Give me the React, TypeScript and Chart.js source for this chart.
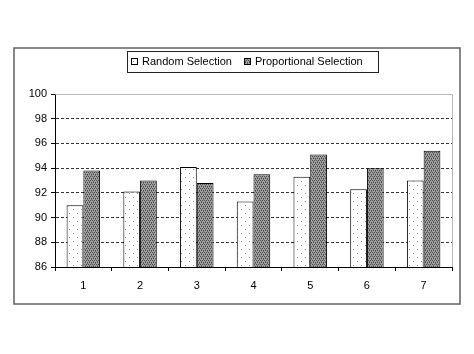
import React, { useEffect, useRef } from "react";
import { Chart, registerables } from "chart.js";

Chart.register(...registerables);

const categories = ["1", "2", "3", "4", "5", "6", "7"];
const randomSelection = [91.0, 92.1, 94.1, 91.3, 93.3, 92.3, 93.0];
const proportionalSelection = [93.8, 93.0, 92.8, 93.5, 95.1, 94.0, 95.4];
const seriesNames = ["Random Selection", "Proportional Selection"];
const yMin = 86;
const yMax = 100;
const yStep = 2;

const FONT = "'Liberation Sans', Arial, sans-serif";

function makeRandomPattern(ctx: CanvasRenderingContext2D) {
  const c = document.createElement("canvas");
  c.width = 8;
  c.height = 8;
  const g = c.getContext("2d")!;
  g.fillStyle = "#ffffff";
  g.fillRect(0, 0, 8, 8);
  g.fillStyle = "#8a8a8a";
  g.fillRect(1, 1, 1, 1);
  g.fillRect(5, 5, 1, 1);
  return ctx.createPattern(c, "repeat")!;
}

function makePropPattern(ctx: CanvasRenderingContext2D) {
  const c = document.createElement("canvas");
  c.width = 4;
  c.height = 4;
  const g = c.getContext("2d")!;
  g.fillStyle = "#a0a0a0";
  g.fillRect(0, 0, 4, 4);
  g.fillStyle = "#4a4a4a";
  g.fillRect(0, 0, 1, 1);
  g.fillRect(2, 0, 1, 1);
  g.fillRect(1, 2, 1, 1);
  g.fillRect(3, 2, 1, 1);
  g.fillStyle = "#6a6a6a";
  g.fillRect(1, 1, 1, 1);
  g.fillRect(3, 3, 1, 1);
  return ctx.createPattern(c, "repeat")!;
}

export default function App() {
  const ref = useRef<HTMLCanvasElement | null>(null);

  useEffect(() => {
    const canvas = ref.current!;
    const ctx = canvas.getContext("2d")!;
    const pRandom = makeRandomPattern(ctx);
    const pProp = makePropPattern(ctx);

    const framePlugin = {
      id: "frame",
      beforeDraw(chart: any) {
        const c = chart.ctx;
        c.save();
        c.fillStyle = "#ffffff";
        c.fillRect(0, 0, chart.width, chart.height);
        c.restore();
      },
      afterDraw(chart: any) {
        const c = chart.ctx as CanvasRenderingContext2D;
        const a = chart.chartArea;
        c.save();
        // plot top & right border
        c.strokeStyle = "#b8b8b8";
        c.lineWidth = 1;
        c.beginPath();
        c.moveTo(Math.round(a.left) + 0.5, Math.round(a.top) + 0.5);
        c.lineTo(Math.round(a.right) + 0.5, Math.round(a.top) + 0.5);
        c.lineTo(Math.round(a.right) + 0.5, Math.round(a.bottom));
        c.stroke();
        // outer frame
        c.strokeStyle = "#606060";
        c.lineWidth = 1.5;
        c.strokeRect(14, 48, 446, 256);
        // legend box
        c.fillStyle = "#ffffff";
        c.fillRect(127, 51, 251, 21);
        c.strokeStyle = "#222222";
        c.lineWidth = 1;
        c.strokeRect(127.5, 51.5, 251, 21);
        // swatches
        c.fillStyle = pRandom;
        c.fillRect(131, 58, 7, 7);
        c.strokeStyle = "#000";
        c.strokeRect(131.5, 58.5, 6, 6);
        c.fillStyle = pProp;
        c.fillRect(244, 58, 7, 7);
        c.strokeRect(244.5, 58.5, 6, 6);
        c.fillStyle = "#000";
        c.font = "11px " + FONT;
        c.textBaseline = "middle";
        c.textAlign = "left";
        c.fillText(seriesNames[0], 142, 62);
        c.fillText(seriesNames[1], 255, 62);
        c.restore();
      },
    };

    const chart = new Chart(canvas, {
      type: "bar",
      data: {
        labels: categories,
        datasets: [
          {
            label: seriesNames[0],
            data: randomSelection,
            backgroundColor: pRandom,
            borderColor: "#000000",
            borderWidth: 1,
            barPercentage: 1,
            categoryPercentage: 0.59,
          },
          {
            label: seriesNames[1],
            data: proportionalSelection,
            backgroundColor: pProp,
            borderColor: "#000000",
            borderWidth: 1,
            barPercentage: 1,
            categoryPercentage: 0.59,
          },
        ],
      },
      options: {
        animation: false,
        responsive: true,
        maintainAspectRatio: false,
        layout: { padding: { left: 0, top: 94, right: 22, bottom: 0 } },
        plugins: {
          legend: { display: false },
          tooltip: { enabled: false },
        },
        scales: {
          x: {
            afterFit: (s: any) => {
              s.height = 87;
            },
            grid: {
              offset: true,
              drawOnChartArea: false,
              drawTicks: true,
              tickLength: 4,
              tickColor: "#000",
            },
            border: { color: "#000", width: 1 },
            ticks: {
              color: "#000",
              font: { family: FONT, size: 11 },
              padding: 8,
            },
          },
          y: {
            min: yMin,
            max: yMax,
            afterFit: (s: any) => {
              s.width = 55;
            },
            ticks: {
              stepSize: yStep,
              color: "#000",
              font: { family: FONT, size: 11 },
              padding: 4,
            },
            grid: {
              color: (c: any) =>
                c.tick && (c.tick.value === yMin || c.tick.value === yMax)
                  ? "rgba(0,0,0,0)"
                  : "#333333",
              tickBorderDash: [],
              tickColor: "#000",
              tickLength: 4,
              lineWidth: 1,
            },
            border: { color: "#000", width: 1, dash: [3, 2] },
          },
        },
      },
      plugins: [framePlugin],
    });
    return () => chart.destroy();
  }, []);

  return (
    <div style={{ position: "fixed", left: 0, top: 0, width: 474, height: 354 }}>
      <canvas ref={ref} />
    </div>
  );
}
